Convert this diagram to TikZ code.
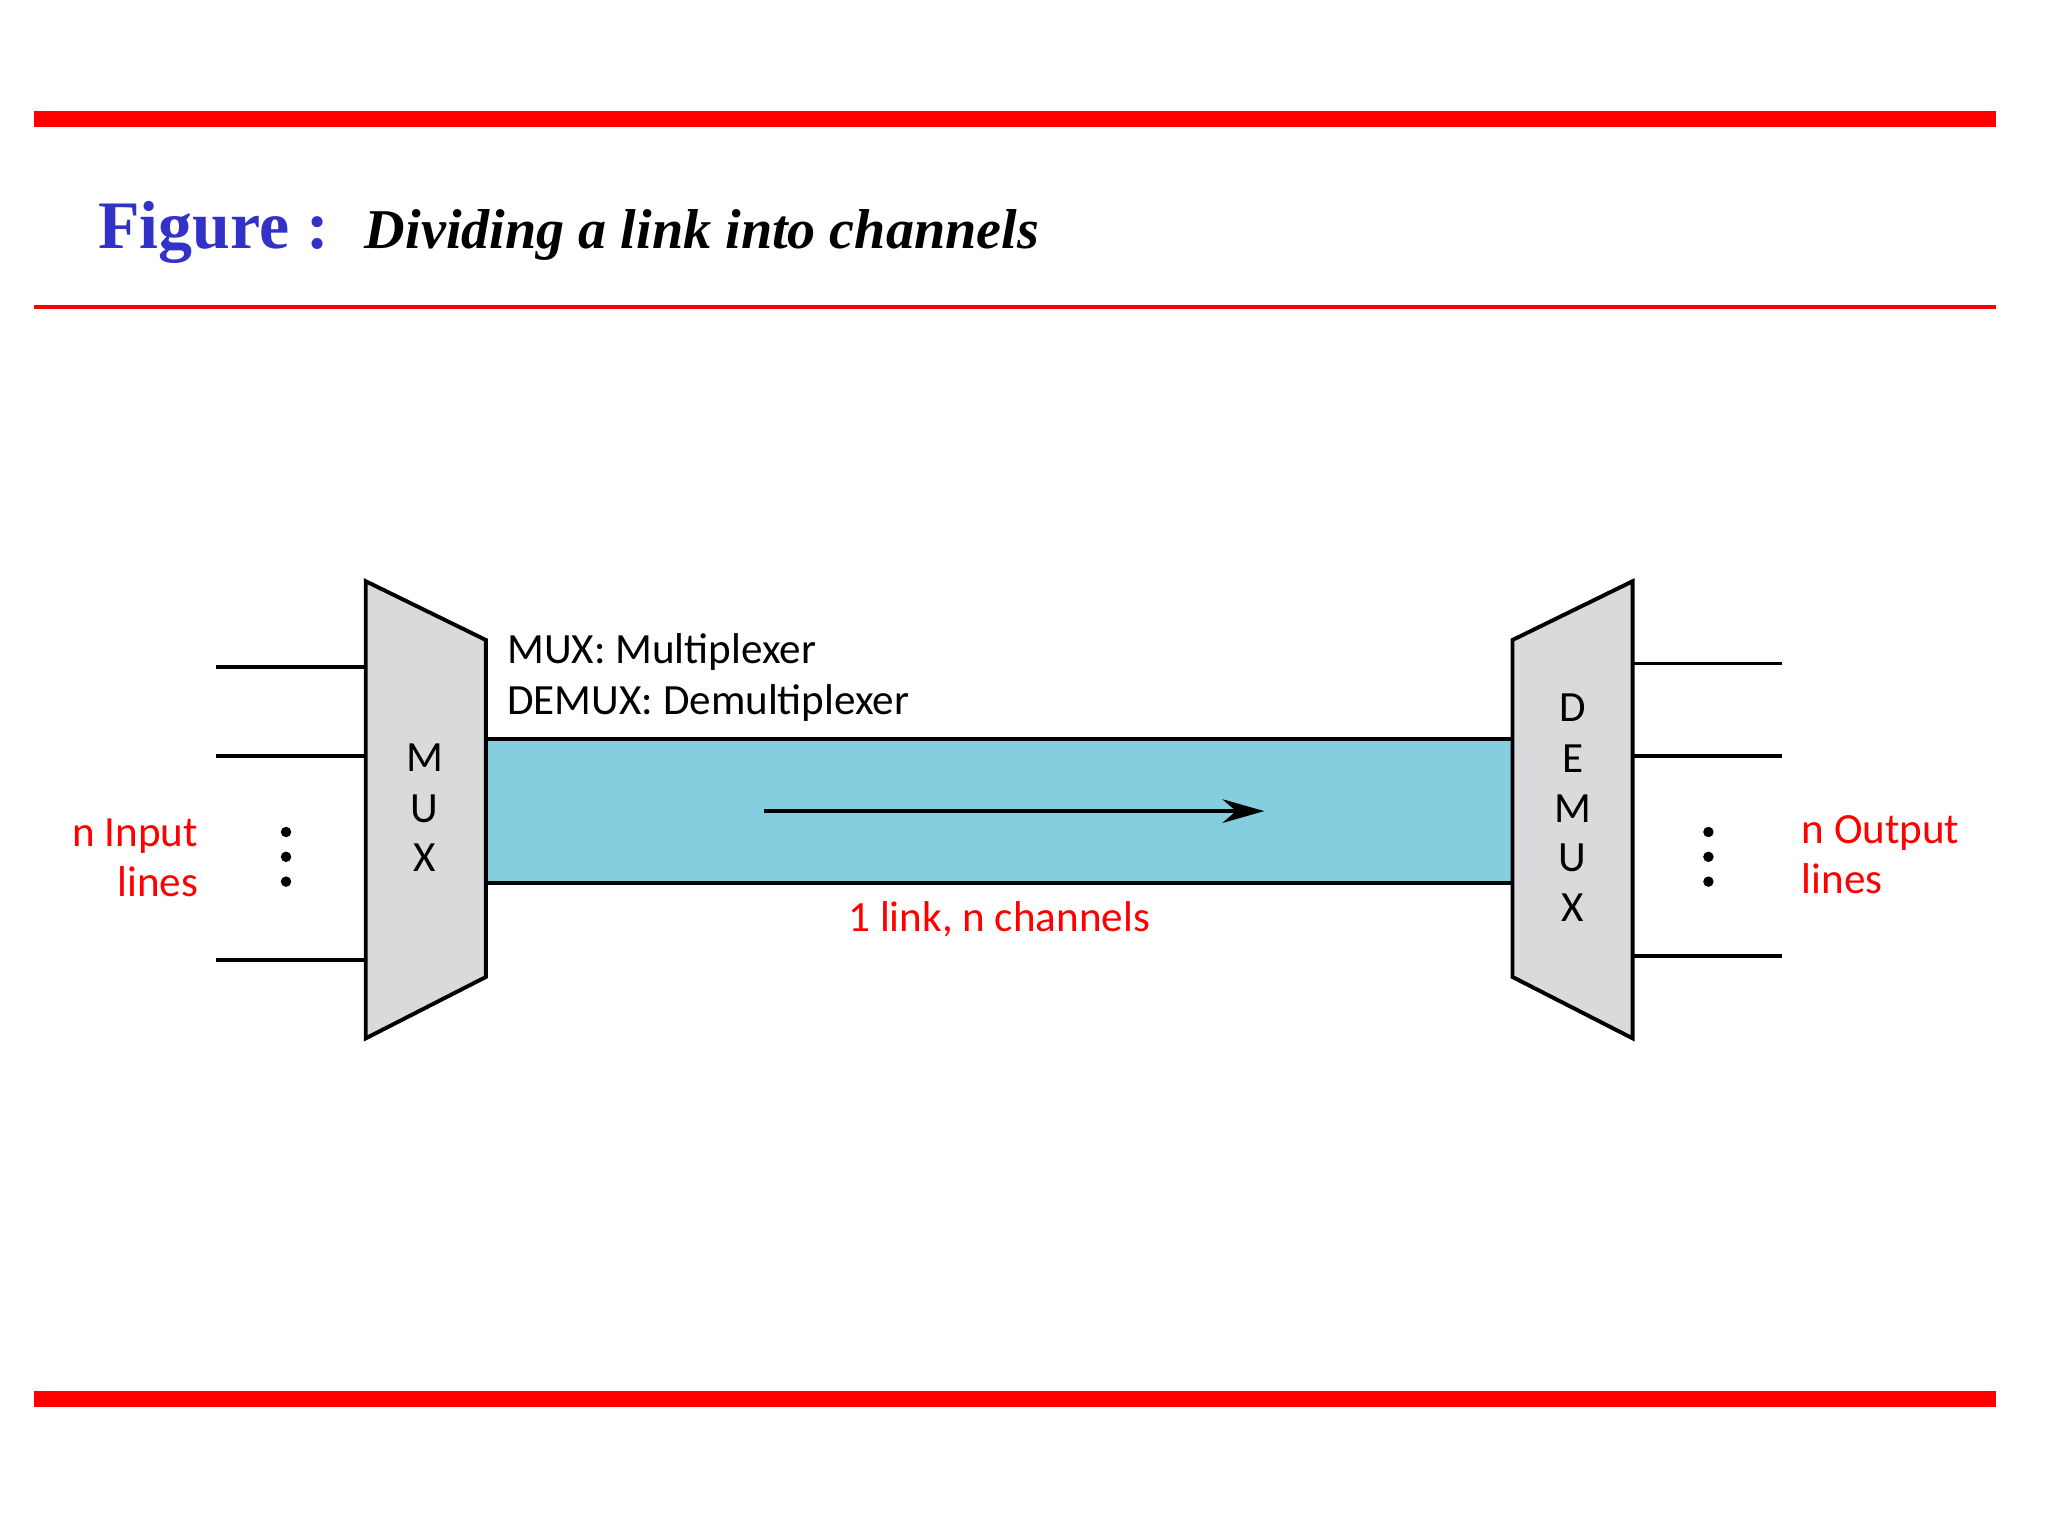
\documentclass[tikz,border=0pt]{standalone}
\usepackage{fontspec}
\usetikzlibrary{arrows.meta}
\setmainfont{Liberation Serif}
\newfontfamily\lab{Carlito}
\definecolor{rd}{RGB}{255,0,0}
\definecolor{tb}{RGB}{50,50,200}
\definecolor{band}{RGB}{133,206,224}
\definecolor{box}{RGB}{218,218,220}
\begin{document}
\begin{tikzpicture}[x=0.5pt,y=-0.5pt,
  txt/.style={font=\lab\fontsize{16.5}{19}\selectfont,inner sep=0pt},
  red/.style={txt,text=rd},
  ln/.style={line width=1.5pt}]
\useasboundingbox (0,0) rectangle (1568,1176);
\fill[rd] (26,85) rectangle (1528,97);
\fill[rd] (26,233.5) rectangle (1528,236.5);
\fill[rd] (26,1065) rectangle (1528,1077);
\node[anchor=base west,inner sep=0pt,text=tb,font=\bfseries\fontsize{26}{30}\selectfont] (fig) at (75,190) {Figure :};
\node[anchor=base west,inner sep=0pt,font=\bfseries\itshape\fontsize{21.5}{25}\selectfont] (ttl) at (279,190) {Dividing a link into channels};
\draw[ln,fill=band] (372,566) rectangle (1158,676);
\draw[ln,fill=box] (280,445) -- (372,490) -- (372,748) -- (280,795) -- cycle;
\draw[ln,fill=box] (1250,445) -- (1158,490) -- (1158,748) -- (1250,795) -- cycle;
\coordinate (a1) at (585,621); \coordinate (a2) at (968,621);
\draw[line width=1.8pt,-{Stealth[length=16pt,width=9pt]}] (a1) -- (a2);
\foreach \y in {511,579,735}{\draw[ln] (165,\y) -- (280,\y);}
\foreach \y in {508,579,732}{\draw[ln] (1250,\y) -- (1364,\y);}
\foreach \y in {637,656,675}{\fill (219,\y) circle (4); \fill (1308,\y) circle (4);}
\foreach \l/\y in {M/580,U/619,X/657}{\node[txt] at (325,\y) {\l};}
\foreach \l/\y in {D/542,E/581,M/619,U/657,X/695}{\node[txt] at (1204,\y) {\l};}
\node[txt,anchor=base west] (m1) at (388,508) {MUX: Multiplexer};
\node[txt,anchor=base west] (m2) at (388,547) {DEMUX: Demultiplexer};
\node[red,anchor=base] (lk) at (765,713) {1 link, n channels};
\node[red,anchor=base east] (in1) at (152,648) {n Input};
\node[red,anchor=base east] (in2) at (152,686) {lines};
\node[red,anchor=base west] (o1) at (1379,646) {n Output};
\node[red,anchor=base west] (o2) at (1379,684) {lines};
\end{tikzpicture}
\end{document}
